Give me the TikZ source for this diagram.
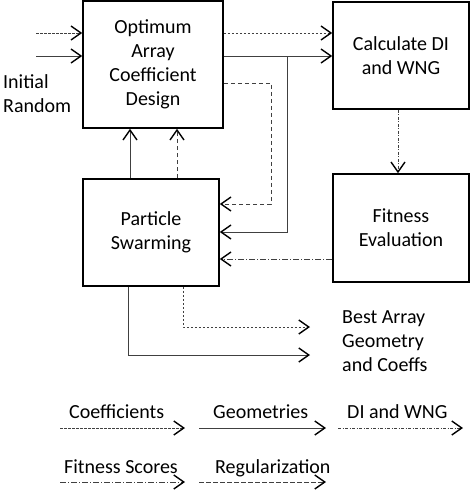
\documentclass[tikz,border=0pt]{standalone}
\usepackage{fontspec}
\setmainfont{Carlito}
\usetikzlibrary{arrows.meta,calc}
\tikzset{
	blok/.style={draw=black, line width=1.6pt, align=center, inner sep=2pt},
	lbl/.style={align=left, inner sep=0pt},
	wire/.style={line width=0.8pt, color=black!75, -{Straight Barb[length=10pt,width=14pt,line width=1.4pt,color=black]}},
	coef/.style={wire, dash pattern=on 2.5pt off 1.5pt},
	geom/.style={wire},
	diw/.style={wire, dash pattern=on 3pt off 1.5pt on 1pt off 1.5pt},
	fits/.style={wire, dash pattern=on 6pt off 2pt on 1pt off 2pt},
	reg/.style={wire, dash pattern=on 4.5pt off 2.5pt}
}
\begin{document}
\begin{tikzpicture}[x=1pt, y=-1pt, font=\fontsize{20}{24}\selectfont]
			%%%%% START %%%%%
			\useasboundingbox (0,0) rectangle (474,491);
			
			% blocks
			\node[blok, minimum width=140pt, minimum height=127pt] (opt) at (153,64.5) {Optimum\\Array\\Coefficient\\Design};
			\node[blok, minimum width=136pt, minimum height=107pt] (calc) at (401,55.5) {Calculate DI\\and WNG};
			\node[blok, minimum width=136pt, minimum height=108pt] (fit) at (401,228) {Fitness\\Evaluation};
			\node[blok, minimum width=136pt, minimum height=107pt] (swarm) at (151,232.5) {Particle\\Swarming};
			
			% inputs
			\coordinate (inA) at (36,33);
			\coordinate (inB) at (36,56);
			\node[lbl, anchor=west] (init) at (3,94) {Initial\\Random};
			\draw[coef] (inA) -- (inA -| opt.west);
			\draw[geom] (inB) -- (inB -| opt.west);
			
			% opt to calc
			\draw[coef] (opt.east |- inA) -- (calc.west |- inA);
			\draw[geom] (opt.east |- inB) -- (calc.west |- inB);
			
			% feedback to swarm
			\coordinate (jA) at (287,56);
			\draw[geom] (jA) |- (swarm.east |- 0,232);
			\draw[reg] (opt.east |- 0,83) -- (271,83) |- (swarm.east |- 0,204);
			\draw[diw] (calc.south -| 398,0) -- (fit.north -| 398,0);
			\draw[fits] (fit.west |- 0,259) -- (swarm.east |- 0,259);
			
			% swarm to opt
			\draw[geom] (swarm.north -| 130,0) -- (opt.south -| 130,0);
			\draw[reg] (swarm.north -| 177,0) -- (opt.south -| 177,0);
			
			% outputs
			\coordinate (outA) at (310,327);
			\coordinate (outB) at (310,355);
			\draw[coef] (swarm.south -| 183,0) |- (outA);
			\draw[geom] (swarm.south -| 128,0) |- (outB);
			\node[lbl, anchor=west] (best) at (342,341) {Best Array\\Geometry\\and Coeffs};
			
			% legend
			\draw[coef] (60,428) coordinate (lgA) -- (185,428);
			\draw[geom] (199,428) coordinate (lgB) -- (326,428);
			\draw[diw] (338,428) coordinate (lgC) -- (463,428);
			\draw[fits] (60,482) coordinate (lgD) -- (185,482);
			\draw[reg] (199,482) coordinate (lgE) -- (326,482);
			\node[lbl, anchor=base west] (tA) at (69,418) {Coefficients};
			\node[lbl, anchor=base west] (tB) at (213,418) {Geometries};
			\node[lbl, anchor=base west] (tC) at (347,418) {DI and WNG};
			\node[lbl, anchor=base west] (tD) at (64,473) {Fitness Scores};
			\node[lbl, anchor=base west] (tE) at (215,473) {Regularization};
			%%%%% END %%%%%
\end{tikzpicture}
\end{document}
